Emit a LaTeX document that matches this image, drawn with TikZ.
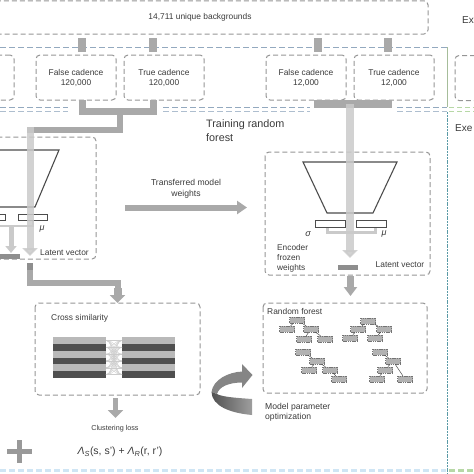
\documentclass[tikz,border=0pt]{standalone}
\usepackage{fontspec}
\setmainfont{Liberation Sans}
\usetikzlibrary{arrows.meta,calc}
\definecolor{txt}{HTML}{3A3A3A}
\definecolor{bord}{HTML}{959595}
\definecolor{arr}{HTML}{A9A9A9}
\definecolor{arrlight}{HTML}{CACACA}
\definecolor{darkbar}{HTML}{8E8E8E}
\definecolor{blueline}{HTML}{93A9BF}
\definecolor{tealline}{HTML}{5A9AA6}
\definecolor{greenline}{HTML}{B7D8A6}
\definecolor{lightblue}{HTML}{CFE5F4}
\definecolor{stripel}{HTML}{B9B9B9}
\definecolor{striped}{HTML}{4F4F4F}
\tikzset{
  dbox/.style={draw=bord, dash pattern=on 5pt off 3pt, rounded corners=4pt, line width=1pt},
  lbl/.style={text=txt, font=\fontsize{8.4}{10}\selectfont, align=center, inner sep=0pt},
  cad/.style={dbox, lbl, minimum width=80pt, minimum height=45pt},
  gbar/.style={draw=arr, line width=7pt},
  garrow/.style={draw=arr, line width=6pt, -{Triangle[length=8pt,width=14pt]}},
  larrow/.style={draw=arrlight, line width=7pt, -{Triangle[length=8pt,width=15pt]}},
  grpline/.style={draw=blueline, dash pattern=on 6pt off 3pt, line width=1pt},
  trap/.style={draw=black!70, line width=1.1pt},
  vrect/.style={draw=black!70, fill=white, line width=0.8pt},
  greek/.style={text=txt, font=\fontsize{9}{10}\selectfont\itshape, inner sep=0pt},
  leaf/.style={draw=black!55, fill=black!30, dash pattern=on 1.2pt off 0.6pt, line width=0.4pt, minimum width=15pt, minimum height=6pt, inner sep=0pt},
  tedge/.style={draw=black!70, line width=0.5pt},
}
\begin{document}
\begin{tikzpicture}[x=1pt,y=-1pt]
\useasboundingbox (0,0) rectangle (474,474);
% ---------- top box ----------
\draw[dbox] (-40,0.8) rectangle (428,34);
\node[lbl] (bg) at (200,17) {14,711 unique backgrounds};
\node[text=txt, font=\fontsize{10}{12}\selectfont, anchor=west, inner sep=0pt] (ex1) at (462,20) {Ex};
% ---------- group lines ----------
\draw[grpline] (0,47) -- (447,47);
\draw[draw=greenline!70!gray, line width=0.8pt] (447,47) -- (447,107);
\foreach \yy/\cc in {107/blueline,111/blueline!75} {
  \draw[grpline, draw=\cc] (0,\yy) -- (68,\yy);
  \draw[grpline, draw=\cc] (163,\yy) -- (310,\yy);
  \draw[grpline, draw=\cc] (397,\yy) -- (447,\yy);
  \draw[draw=greenline, dash pattern=on 5pt off 3pt, line width=0.9pt] (449,\yy) -- (474,\yy);
}
% ---------- cadence boxes ----------
\node[cad] (c0) at (-26,77.5) {};
\node[cad] (f1) at (76,77.5) {False cadence\\120,000};
\node[cad] (t1) at (164,77.5) {True cadence\\120,000};
\node[cad] (f2) at (306,77.5) {False cadence\\12,000};
\node[cad] (t2) at (394,77.5) {True cadence\\12,000};
\node[cad] (c5) at (495,78) {};
% connectors from backgrounds
\foreach \xx in {82,153,318,388} {
  \draw[draw=arr, line width=8pt] (\xx,38) -- (\xx,52);
}
% ---------- brackets ----------
\draw[gbar, line width=7pt] (82,100) -- (82,111) -- (153,111) -- (153,100);
\draw[gbar, line width=6pt] (120,111) -- (120,129.5) -- (27,129.5);
\draw[gbar, line width=8pt] (318,100) -- (318,104) -- (388,104) -- (388,100);
% ---------- training random forest ----------
\node[text=txt, font=\fontsize{10.8}{13.5}\selectfont, align=left, anchor=north west, inner sep=0pt] (trf) at (206,119.5) {Training random\\forest};
% ---------- left encoder panel ----------
\draw[dbox] (-72,137) rectangle (96,259);
\draw[trap] (-35,150) -- (59,150) -- (35,207) -- (-11,207) -- cycle;
\draw[draw=arrlight, line width=2.5pt] (-10,220) -- (-10,226) -- (33,226) -- (33,220);
\draw[vrect] (-25,214) rectangle (5,220);
\draw[vrect] (18,214) rectangle (47,220);
\node[greek] (mu1) at (42,229) {μ};
\draw[larrow, line width=5pt, -{Triangle[length=7pt,width=11pt]}] (11,226) -- (11,253);
\draw[larrow, opacity=0.85] (30,127) -- (30,256);
\node[lbl] (lv1) at (64.5,253) {Latent vector};
\draw[fill=darkbar, draw=none] (-4,254) rectangle (20,259);
% output of left panel
\draw[fill=darkbar, draw=none] (27,263) rectangle (33,270);
\draw[gbar, line width=6pt] (30,270) -- (30,282.5) -- (117.5,282.5) -- (117.5,292);
\draw[garrow, line width=8pt, -{Triangle[length=8pt,width=15pt]}] (117.5,288) -- (117.5,303);
% ---------- transferred weights ----------
\node[lbl, font=\fontsize{8.6}{10.5}\selectfont] (tmw) at (186,189) {Transferred model\\weights};
\draw[garrow, -{Triangle[length=10pt,width=13pt]}] (125,207.5) -- (247,207.5);
% ---------- right encoder panel ----------
\draw[dbox] (265,152) rectangle (430,275);
\draw[trap] (303,162) -- (397,162) -- (373,213) -- (327,213) -- cycle;
\draw[draw=arrlight, line width=3pt] (327,226) -- (327,232) -- (375,232) -- (375,226);
\draw[vrect] (315,220) rectangle (345,227);
\draw[vrect] (356,220) rectangle (386,227);
\draw[larrow, line width=8pt, opacity=0.85, -{Triangle[length=8pt,width=15pt]}] (350,104) -- (350,258);
\node[greek] (sig2) at (308,234) {σ};
\node[greek] (mu2) at (384,234) {μ};
\node[lbl, font=\fontsize{8.3}{10}\selectfont, align=left, anchor=north west] (efw) at (277,244) {Encoder\\frozen\\weights};
\node[lbl] (lv2) at (400,265) {Latent vector};
\draw[fill=darkbar, draw=none] (338,265) rectangle (358,270);
\draw[garrow, line width=7pt, -{Triangle[length=9pt,width=13pt]}] (350.5,276) -- (350.5,296);
% ---------- cross similarity ----------
\draw[dbox] (35,303) rectangle (200,395);
\node[lbl, anchor=west] (cst) at (51,318) {Cross similarity};
\foreach \i in {0,...,5} {
  \pgfmathsetmacro{\ya}{337+\i*6.85}
  \pgfmathsetmacro{\yb}{337+(\i+1)*6.85}
  \pgfmathparse{mod(\i,2)==0 ? "stripel" : "striped"}
  \edef\col{\pgfmathresult}
  \fill[\col] (53,\ya) rectangle (106,\yb);
  \fill[\col] (122,\ya) rectangle (175,\yb);
}
\foreach \i in {0,...,5} {
  \foreach \j in {0,...,5} {
    \draw[black!20, line width=0.35pt] (106,{340.4+\i*6.85}) .. controls (114,{340.4+\i*6.85}) and (114,{340.4+\j*6.85}) .. (122,{340.4+\j*6.85});
  }
}
\draw[garrow, line width=5.5pt, -{Triangle[length=8pt,width=15pt]}] (115.5,398) -- (115.5,418);
\node[lbl, font=\fontsize{7.2}{9}\selectfont] (cl) at (115,429) {Clustering loss};
\node[lbl, font=\fontsize{10.5}{12}\selectfont] (form) at (120,452) {\textit{Λ}\textsubscript{\textit{S}}(s, s’) + \textit{Λ}\textsubscript{\textit{R}}(r, r’)};
% plus sign
\draw[draw=black!40, line width=5pt] (7,451) -- (32,451);
\draw[draw=black!40, line width=5pt] (19.5,440) -- (19.5,463);
% ---------- random forest ----------
\draw[dbox] (263,303) rectangle (427,393);
\node[lbl, anchor=west] (rft) at (267,311) {Random forest};
% tree 1
\node[leaf] (r1) at (297,320) {};
\node[leaf] (a1) at (287,329) {};
\node[leaf] (b1) at (311,329) {};
\node[leaf] (c1) at (304,339) {};
\node[leaf] (d1) at (325,339) {};
\draw[tedge] (r1) -- (a1); \draw[tedge] (r1) -- (b1); \draw[tedge] (b1) -- (c1); \draw[tedge] (b1) -- (d1);
% tree 2
\node[leaf] (r2) at (368,321) {};
\node[leaf] (a2) at (358,329) {};
\node[leaf] (b2) at (384,329) {};
\node[leaf] (c2) at (350,338) {};
\node[leaf] (d2) at (375,338) {};
\draw[tedge] (r2) -- (a2); \draw[tedge] (r2) -- (b2); \draw[tedge] (a2) -- (c2); \draw[tedge] (b2) -- (d2);
% tree 3
\node[leaf] (r3) at (303,352) {};
\node[leaf] (a3) at (317,361) {};
\node[leaf] (b3) at (309,370) {};
\node[leaf] (c3) at (330,370) {};
\node[leaf] (d3) at (339,379) {};
\draw[tedge] (r3) -- (a3); \draw[tedge] (a3) -- (b3); \draw[tedge] (a3) -- (c3); \draw[tedge] (c3) -- (d3);
% tree 4
\node[leaf] (r4) at (380,352) {};
\node[leaf] (a4) at (393,361) {};
\node[leaf] (b4) at (385,370) {};
\node[leaf] (c4) at (377,379) {};
\node[leaf] (d4) at (405,379) {};
\draw[tedge] (r4) -- (a4); \draw[tedge] (a4) -- (b4); \draw[tedge] (b4) -- (c4); \draw[tedge] (a4) -- (d4);
% ---------- curved arrow ----------
\fill[black!48] (242.5,371.5) .. controls (228,372) and (213,380) .. (211.5,392) -- (217,394) .. controls (219,387) and (228,382.5) .. (242.5,382.5) -- cycle;
\shade[left color=black!68, right color=black!38] (211.5,392) .. controls (212,406) and (230,413) .. (252,415) -- (252,399) .. controls (238,398) and (222,397) .. (217,394) -- cycle;
\fill[black!48] (242,364) -- (252.5,375) -- (242,388) -- cycle;
\node[lbl, font=\fontsize{8.6}{10.3}\selectfont, align=left, anchor=north west] (mpo) at (265,403) {Model parameter\\optimization};
% ---------- right separators ----------
\draw[draw=tealline, dash pattern=on 2pt off 0.8pt, line width=0.8pt] (447,112) -- (447,474);
\node[text=txt, font=\fontsize{10}{12}\selectfont, anchor=west, inner sep=0pt] (ex2) at (455,128) {Exe};
\draw[draw=lightblue, dash pattern=on 6pt off 3pt, line width=3pt] (0,470) -- (446,470);
\draw[draw=greenline, dash pattern=on 6pt off 3pt, line width=3pt] (449,470) -- (474,470);
\end{tikzpicture}
\end{document}
